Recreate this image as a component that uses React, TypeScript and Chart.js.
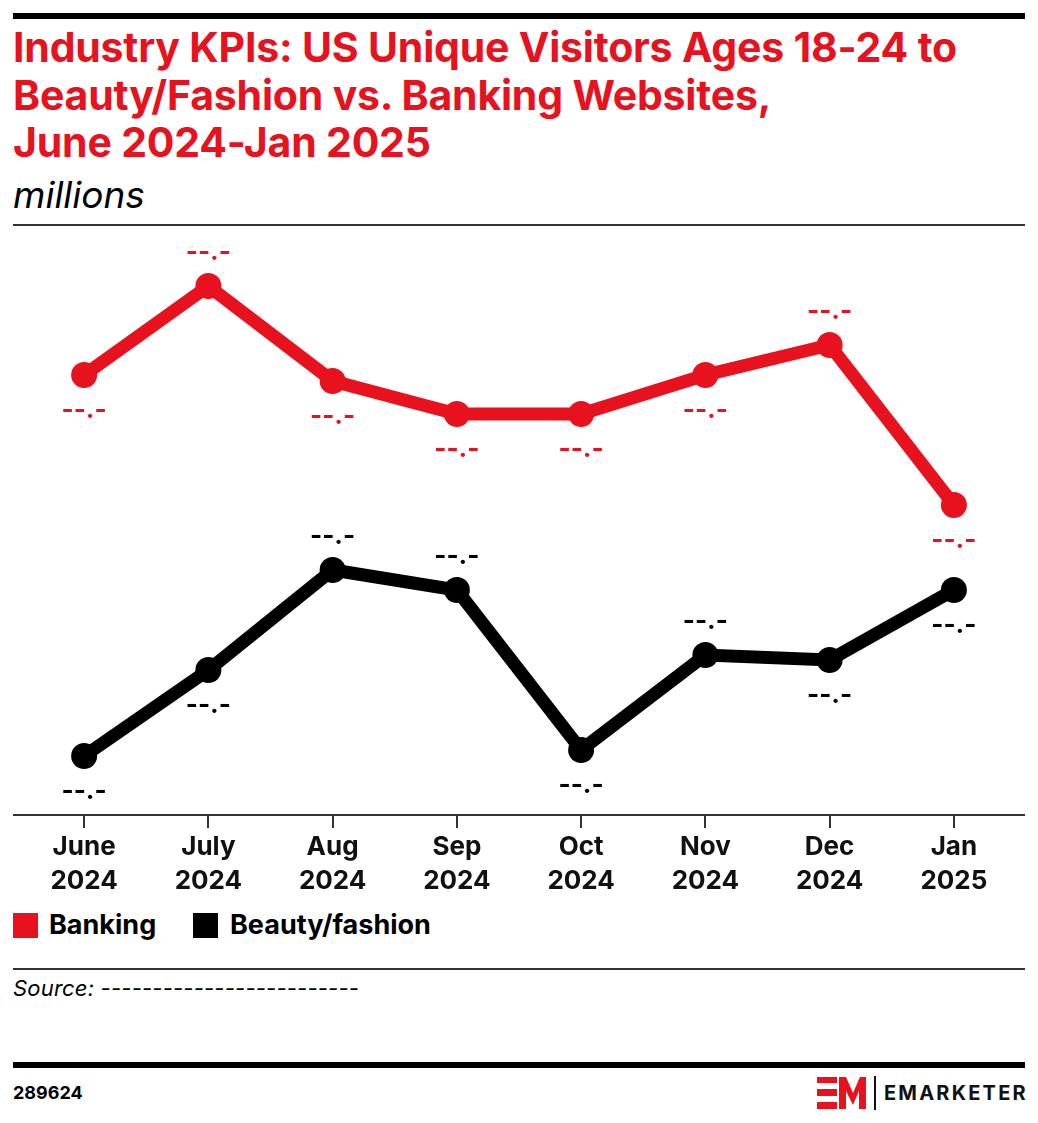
import React, { useEffect, useRef } from 'react';
import { Chart, registerables } from 'chart.js';

Chart.register(...registerables);

// Data (labels in the source read "--.-")
const months = [['June', '2024'], ['July', '2024'], ['Aug', '2024'], ['Sep', '2024'], ['Oct', '2024'], ['Nov', '2024'], ['Dec', '2024'], ['Jan', '2025']];
const banking = [44.0, 52.9, 43.4, 40.1, 40.1, 44.0, 47.0, 31.0];
const beautyFashion = [5.9, 14.5, 24.5, 22.5, 6.5, 16.0, 15.5, 22.5];
// where the value label sits relative to each point
const bankingLabelPos = ['below', 'above', 'below', 'below', 'below', 'below', 'above', 'below'];
const beautyLabelPos = ['below', 'below', 'above', 'above', 'below', 'above', 'below', 'below'];
const valueLabel = '--.-';

const RED = '#e8111e';
const BLACK = '#000000';
const FONT = 'Inter, "Noto Sans", sans-serif';

document.body.style.margin = '0';

// value labels above / below each point
const pointLabels = {
    id: 'pointLabels',
    afterDatasetsDraw(chart: any) {
        const ctx = chart.ctx;
        ctx.save();
        ctx.font = `700 26px ${FONT}`;
        ctx.textAlign = 'center';
        ctx.textBaseline = 'middle';
        chart.data.datasets.forEach((ds: any, i: number) => {
            const meta = chart.getDatasetMeta(i);
            const pos = ds.labelPos as string[];
            ctx.fillStyle = ds.borderColor;
            meta.data.forEach((pt: any, j: number) => {
                const dy = pos[j] === 'above' ? -34 : 35;
                ctx.fillText(valueLabel, pt.x, pt.y + dy);
            });
        });
        ctx.restore();
    },
};

// baseline across the whole width
const baseLine = {
    id: 'baseLine',
    afterDraw(chart: any) {
        const ctx = chart.ctx;
        ctx.save();
        ctx.strokeStyle = '#333';
        ctx.lineWidth = 2;
        ctx.beginPath();
        ctx.moveTo(0, chart.chartArea.bottom);
        ctx.lineTo(chart.width, chart.chartArea.bottom);
        ctx.stroke();
        ctx.restore();
    },
};

const LineChart: React.FC = () => {
    const canvasRef = useRef<HTMLCanvasElement>(null);

    useEffect(() => {
        if (!canvasRef.current) return;
        const chart = new Chart(canvasRef.current, {
            type: 'line',
            data: {
                labels: months,
                datasets: [
                    {
                        label: 'Banking',
                        data: banking,
                        borderColor: RED,
                        backgroundColor: RED,
                        borderWidth: 13,
                        pointRadius: 13,
                        pointBorderWidth: 0,
                        tension: 0,
                        labelPos: bankingLabelPos,
                    } as any,
                    {
                        label: 'Beauty/fashion',
                        data: beautyFashion,
                        borderColor: BLACK,
                        backgroundColor: BLACK,
                        borderWidth: 13,
                        pointRadius: 13,
                        pointBorderWidth: 0,
                        tension: 0,
                        labelPos: beautyLabelPos,
                    } as any,
                ],
            },
            options: {
                animation: false,
                responsive: false,
                layout: { autoPadding: false, padding: { left: 9, right: 9, top: 0, bottom: 0 } },
                plugins: { legend: { display: false }, tooltip: { enabled: false } },
                scales: {
                    x: {
                        offset: true,
                        border: { display: false },
                        grid: { offset: false, drawOnChartArea: false, tickLength: 13, color: '#333', lineWidth: 2 },
                        ticks: { color: '#111', padding: 2, font: { family: FONT, size: 26, weight: 'bold', lineHeight: 1.3 } },
                        afterFit: (scale: any) => { scale.height = 80; },
                    },
                    y: { display: false, min: 0, max: 58.5 },
                },
            },
            plugins: [pointLabels, baseLine],
        });
        return () => chart.destroy();
    }, []);

    return <canvas ref={canvasRef} width={1012} height={665} style={{ position: 'absolute', left: 13, top: 230 }} />;
};

const App: React.FC = () => {
    const rule = (top: number, h: number, color = '#000') => (
        <div style={{ position: 'absolute', left: 13, width: 1012, top, height: h, background: color }} />
    );
    return (
        <div style={{ position: 'relative', width: 1038, height: 1123, background: '#fff', fontFamily: FONT, overflow: 'hidden' }}>
            {rule(13, 6)}
            <div style={{ position: 'absolute', left: 13, top: 24, color: RED, fontWeight: 700, fontSize: 41, lineHeight: '47.5px', letterSpacing: '-0.2px', whiteSpace: 'nowrap' }}>
                Industry KPIs: US Unique Visitors Ages 18-24 to<br />
                Beauty/Fashion vs. Banking Websites,<br />
                June 2024-Jan 2025
            </div>
            <div style={{ position: 'absolute', left: 13, top: 173, fontStyle: 'italic', fontSize: 37, lineHeight: '44px', color: '#000' }}>millions</div>
            {rule(224, 2, '#333')}
            <LineChart />
            {/* legend */}
            <div style={{ position: 'absolute', left: 13, top: 913, width: 25, height: 25, background: RED }} />
            <div style={{ position: 'absolute', left: 49, top: 908, fontSize: 27, fontWeight: 700, lineHeight: '34px' }}>Banking</div>
            <div style={{ position: 'absolute', left: 193, top: 913, width: 25, height: 25, background: BLACK }} />
            <div style={{ position: 'absolute', left: 230, top: 908, fontSize: 27, fontWeight: 700, lineHeight: '34px' }}>Beauty/fashion</div>
            {rule(968, 2, '#333')}
            <div style={{ position: 'absolute', left: 13, top: 975, fontStyle: 'italic', fontSize: 22, lineHeight: '26px', letterSpacing: '0.2px' }}>Source: -------------------------</div>
            {rule(1062, 6)}
            <div style={{ position: 'absolute', left: 13, top: 1082, fontWeight: 700, fontSize: 18, lineHeight: '22px' }}>289624</div>
            {/* logo */}
            <svg style={{ position: 'absolute', left: 817, top: 1077 }} width={50} height={32} viewBox="0 0 50 32">
                <rect x={0} y={0} width={20} height={6} fill={RED} />
                <rect x={0} y={12} width={20} height={7} fill={RED} />
                <rect x={0} y={25} width={20} height={7} fill={RED} />
                <polygon points="22,0 29,0 36,16 43,0 49,0 49,32 42,32 42,14 36,28 29,14 29,32 22,32" fill={RED} />
            </svg>
            <div style={{ position: 'absolute', left: 874, top: 1076, width: 2, height: 34, background: '#111' }} />
            <div style={{ position: 'absolute', left: 884, top: 1081, fontWeight: 700, fontSize: 20, lineHeight: '24px', letterSpacing: '2.2px', color: '#111', whiteSpace: 'nowrap' }}>EMARKETER</div>
        </div>
    );
};

export default App;
